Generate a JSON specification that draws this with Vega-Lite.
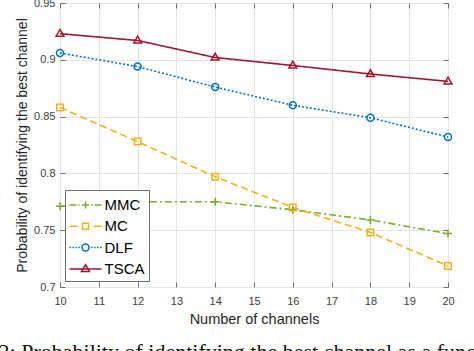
{
  "$schema": "https://vega.github.io/schema/vega-lite/v6.json",
  "width": 388,
  "height": 284,
  "autosize": {"type": "none"},
  "padding": {"left": 60, "top": 3, "right": 26, "bottom": 64},
  "background": "white",
  "title": {
    "text": "2: Probability of identifying the best channel as a function of the number of channels",
    "orient": "bottom", "anchor": "start", "dx": -17, "offset": 16,
    "font": "Liberation Serif", "fontSize": 22, "fontWeight": "normal", "color": "#111111"
  },
  "data": {
    "values": [
      {"method": "MMC", "channels": 10, "p": 0.771},
      {"method": "MMC", "channels": 12, "p": 0.775},
      {"method": "MMC", "channels": 14, "p": 0.775},
      {"method": "MMC", "channels": 16, "p": 0.768},
      {"method": "MMC", "channels": 18, "p": 0.759},
      {"method": "MMC", "channels": 20, "p": 0.747},
      {"method": "MC", "channels": 10, "p": 0.858},
      {"method": "MC", "channels": 12, "p": 0.828},
      {"method": "MC", "channels": 14, "p": 0.797},
      {"method": "MC", "channels": 16, "p": 0.770},
      {"method": "MC", "channels": 18, "p": 0.748},
      {"method": "MC", "channels": 20, "p": 0.7185},
      {"method": "DLF", "channels": 10, "p": 0.906},
      {"method": "DLF", "channels": 12, "p": 0.894},
      {"method": "DLF", "channels": 14, "p": 0.876},
      {"method": "DLF", "channels": 16, "p": 0.860},
      {"method": "DLF", "channels": 18, "p": 0.849},
      {"method": "DLF", "channels": 20, "p": 0.832},
      {"method": "TSCA", "channels": 10, "p": 0.923},
      {"method": "TSCA", "channels": 12, "p": 0.917},
      {"method": "TSCA", "channels": 14, "p": 0.902},
      {"method": "TSCA", "channels": 16, "p": 0.895},
      {"method": "TSCA", "channels": 18, "p": 0.8875},
      {"method": "TSCA", "channels": 20, "p": 0.881}
    ]
  },
  "layer": [
    {
      "mark": {"type": "line", "strokeWidth": 1.6},
      "encoding": {
        "x": {
          "field": "channels", "type": "quantitative",
          "scale": {"domain": [10, 20], "nice": false, "zero": false},
          "axis": {
            "values": [10, 11, 12, 13, 14, 15, 16, 17, 18, 19, 20],
            "grid": true, "gridColor": "#e4e4e4", "domain": false,
            "tickSize": -5, "tickColor": "#6e6e6e", "labelPadding": 13,
            "labelFontSize": 11, "labelColor": "#404040", "labelFlush": false,
            "labelFont": "Liberation Sans",
            "title": "Number of channels", "titleFontSize": 14.5, "titleFontWeight": "normal",
            "titleColor": "#262626", "titlePadding": 6, "titleFont": "Liberation Sans"
          }
        },
        "y": {
          "field": "p", "type": "quantitative",
          "scale": {"domain": [0.7, 0.95], "nice": false, "zero": false},
          "axis": {
            "values": [0.7, 0.75, 0.8, 0.85, 0.9, 0.95], "format": ".2~f",
            "grid": true, "gridColor": "#e4e4e4", "domain": false,
            "tickSize": -5, "tickColor": "#6e6e6e", "labelPadding": 10,
            "labelFontSize": 11, "labelColor": "#404040", "labelFlush": false,
            "labelFont": "Liberation Sans",
            "title": "Probability of identifying the best channel", "titleFontSize": 14,
            "titleFontWeight": "normal", "titleColor": "#262626", "titlePadding": 4,
            "titleFont": "Liberation Sans"
          }
        },
        "color": {
          "field": "method", "type": "nominal",
          "scale": {"domain": ["MMC", "MC", "DLF", "TSCA"], "range": ["#77AC30", "#EDB120", "#0072BD", "#A2142F"]},
          "legend": null
        },
        "strokeDash": {
          "field": "method", "type": "nominal",
          "scale": {"domain": ["MMC", "MC", "DLF", "TSCA"], "range": [[7, 3, 2, 3], [7, 4], [2, 2], [1, 0]]},
          "legend": null
        }
      }
    },
    {
      "mark": {"type": "point", "filled": false, "strokeWidth": 1.5, "size": 100, "opacity": 1},
      "encoding": {
        "x": {
          "field": "channels", "type": "quantitative",
          "axis": {"orient": "top", "labels": false, "domain": false, "grid": false, "tickSize": -5, "tickColor": "#6e6e6e", "title": null, "values": [10, 11, 12, 13, 14, 15, 16, 17, 18, 19, 20]}
        },
        "y": {
          "field": "p", "type": "quantitative",
          "axis": {"orient": "right", "labels": false, "domain": false, "grid": false, "tickSize": -5, "tickColor": "#6e6e6e", "title": null, "values": [0.7, 0.75, 0.8, 0.85, 0.9, 0.95]}
        },
        "color": {
          "field": "method", "type": "nominal",
          "scale": {"domain": ["MMC", "MC", "DLF", "TSCA"], "range": ["#77AC30", "#EDB120", "#0072BD", "#A2142F"]},
          "legend": null
        },
        "shape": {
          "field": "method", "type": "nominal",
          "scale": {
            "domain": ["MMC", "MC", "DLF", "TSCA"],
            "range": [
              "M-0.8,0H0.8M0,-0.8V0.8",
              "M-0.65,-0.65H0.65V0.65H-0.65Z",
              "M0.7,0A0.7,0.7,0,1,1,-0.7,0A0.7,0.7,0,1,1,0.7,0Z",
              "M0,-0.85L0.78,0.5L-0.78,0.5Z"
            ]
          },
          "legend": null
        }
      }
    },
    {
      "mark": {"type": "point", "filled": false, "opacity": 0, "size": 400},
      "encoding": {
        "x": {"field": "channels", "type": "quantitative", "axis": null},
        "y": {"field": "p", "type": "quantitative", "axis": null},
        "color": {
          "field": "method", "type": "nominal",
          "scale": {"domain": ["MMC", "MC", "DLF", "TSCA"], "range": ["#77AC30", "#EDB120", "#0072BD", "#A2142F"]},
          "legend": {
            "orient": "none", "legendX": 5, "legendY": 187, "title": null,
            "padding": 4, "symbolSize": 400, "symbolOffset": 5.5, "labelOffset": 8,
            "rowPadding": 2.3, "labelFontSize": 15, "labelColor": "#000000",
            "labelFont": "Liberation Sans", "labelLimit": 0,
            "fillColor": "white", "strokeColor": "#6e6e6e",
            "symbolStrokeWidth": 1.5, "symbolFillColor": "transparent", "symbolOpacity": 1
          }
        },
        "shape": {
          "field": "method", "type": "nominal",
          "scale": {
            "domain": ["MMC", "MC", "DLF", "TSCA"],
            "range": [
              "M-1.6,0H-0.9M-0.72,0H-0.58M0.58,0H0.72M0.9,0H1.6M-0.35,0H0.35M0,-0.35V0.35",
              "M-1.6,0H-0.8M0.8,0H1.6M-0.3,-0.3H0.3V0.3H-0.3Z",
              "M-1.6,0H-1.45M-1.3,0H-1.15M-1,0H-0.85M-0.7,0H-0.55M0.55,0H0.7M0.85,0H1M1.15,0H1.3M1.45,0H1.6M0.35,0A0.35,0.35,0,1,1,-0.35,0A0.35,0.35,0,1,1,0.35,0Z",
              "M-1.6,0H1.6M0,-0.42L0.4,0.26L-0.4,0.26Z"
            ]
          },
          "legend": {
            "orient": "none", "legendX": 5, "legendY": 187, "title": null,
            "padding": 4, "symbolSize": 400, "symbolOffset": 5.5, "labelOffset": 8,
            "rowPadding": 2.3, "labelFontSize": 15, "labelColor": "#000000",
            "labelFont": "Liberation Sans", "labelLimit": 0,
            "fillColor": "white", "strokeColor": "#6e6e6e",
            "symbolStrokeWidth": 1.5, "symbolFillColor": "transparent", "symbolOpacity": 1
          }
        }
      }
    }
  ],
  "resolve": {
    "scale": {"shape": "independent", "color": "independent"},
    "axis": {"x": "independent", "y": "independent"}
  },
  "config": {
    "view": {"stroke": "#6e6e6e", "strokeWidth": 1},
    "font": "Liberation Sans"
  }
}
